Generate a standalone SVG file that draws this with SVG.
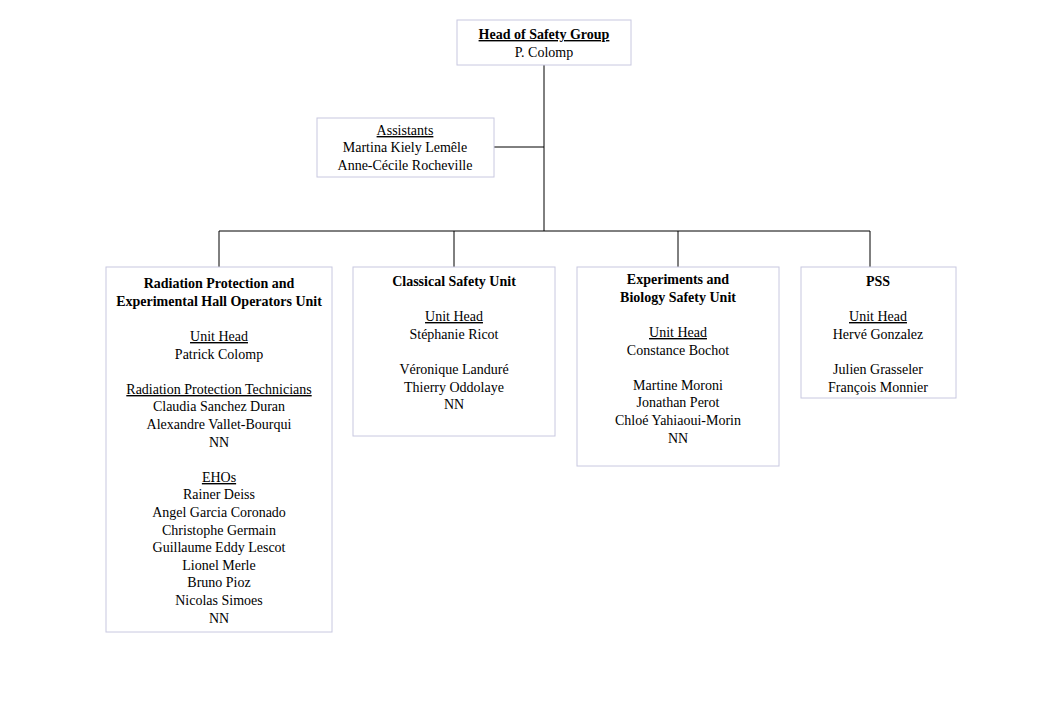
<svg xmlns="http://www.w3.org/2000/svg" width="1040" height="720" viewBox="0 0 1040 720">
<style>
text{font-family:"Liberation Serif","Times New Roman",serif;font-size:14px;fill:#000;text-anchor:middle}
.b{font-weight:bold}
.u{text-decoration:underline}
rect{fill:#fff;stroke:#c8c8e0;stroke-width:1}
.c{stroke:#000;stroke-width:1;fill:none}
</style>
<rect x="0" y="0" width="1040" height="720" style="stroke:none"/>
<g id="connectors">
<path class="c" d="M544 65V231M494 147H544M219 231H870M219 231V267M454 231V267M678 231V267M870 231V267"/>
</g>
<g id="head">
<rect x="457" y="20" width="174" height="45"/>
<text x="544" y="39" class="b u">Head of Safety Group</text>
<text x="544" y="57">P. Colomp</text>
</g>
<g id="assistants">
<rect x="317" y="118" width="177" height="59"/>
<text x="405" y="135" class="u">Assistants</text>
<text x="405" y="152">Martina Kiely Lemêle</text>
<text x="405" y="170">Anne-Cécile Rocheville</text>
</g>
<g id="rp">
<rect x="106" y="267" width="226" height="365"/>
<text x="219" y="288" class="b">Radiation Protection and</text>
<text x="219" y="306" class="b">Experimental Hall Operators Unit</text>
<text x="219" y="341" class="u">Unit Head</text>
<text x="219" y="359">Patrick Colomp</text>
<text x="219" y="394" class="u">Radiation Protection Technicians</text>
<text x="219" y="411">Claudia Sanchez Duran</text>
<text x="219" y="429">Alexandre Vallet-Bourqui</text>
<text x="219" y="447">NN</text>
<text x="219" y="482" class="u">EHOs</text>
<text x="219" y="499">Rainer Deiss</text>
<text x="219" y="517">Angel Garcia Coronado</text>
<text x="219" y="535">Christophe Germain</text>
<text x="219" y="552">Guillaume  Eddy Lescot</text>
<text x="219" y="570">Lionel Merle</text>
<text x="219" y="587">Bruno Pioz</text>
<text x="219" y="605">Nicolas Simoes</text>
<text x="219" y="623">NN</text>
</g>
<g id="classical">
<rect x="353" y="267" width="202" height="169"/>
<text x="454" y="286" class="b">Classical Safety Unit</text>
<text x="454" y="321" class="u">Unit Head</text>
<text x="454" y="339">Stéphanie Ricot</text>
<text x="454" y="374">Véronique Landuré</text>
<text x="454" y="392">Thierry Oddolaye</text>
<text x="454" y="409">NN</text>
</g>
<g id="experiments">
<rect x="577" y="267" width="202" height="199"/>
<text x="678" y="284" class="b">Experiments and</text>
<text x="678" y="302" class="b">Biology Safety Unit</text>
<text x="678" y="337" class="u">Unit Head</text>
<text x="678" y="355">Constance Bochot</text>
<text x="678" y="390">Martine Moroni</text>
<text x="678" y="407">Jonathan Perot</text>
<text x="678" y="425">Chloé Yahiaoui-Morin</text>
<text x="678" y="443">NN</text>
</g>
<g id="pss">
<rect x="801" y="267" width="155" height="131"/>
<text x="878" y="286" class="b">PSS</text>
<text x="878" y="321" class="u">Unit Head</text>
<text x="878" y="339">Hervé Gonzalez</text>
<text x="878" y="374">Julien Grasseler</text>
<text x="878" y="392">François Monnier</text>
</g>
</svg>
